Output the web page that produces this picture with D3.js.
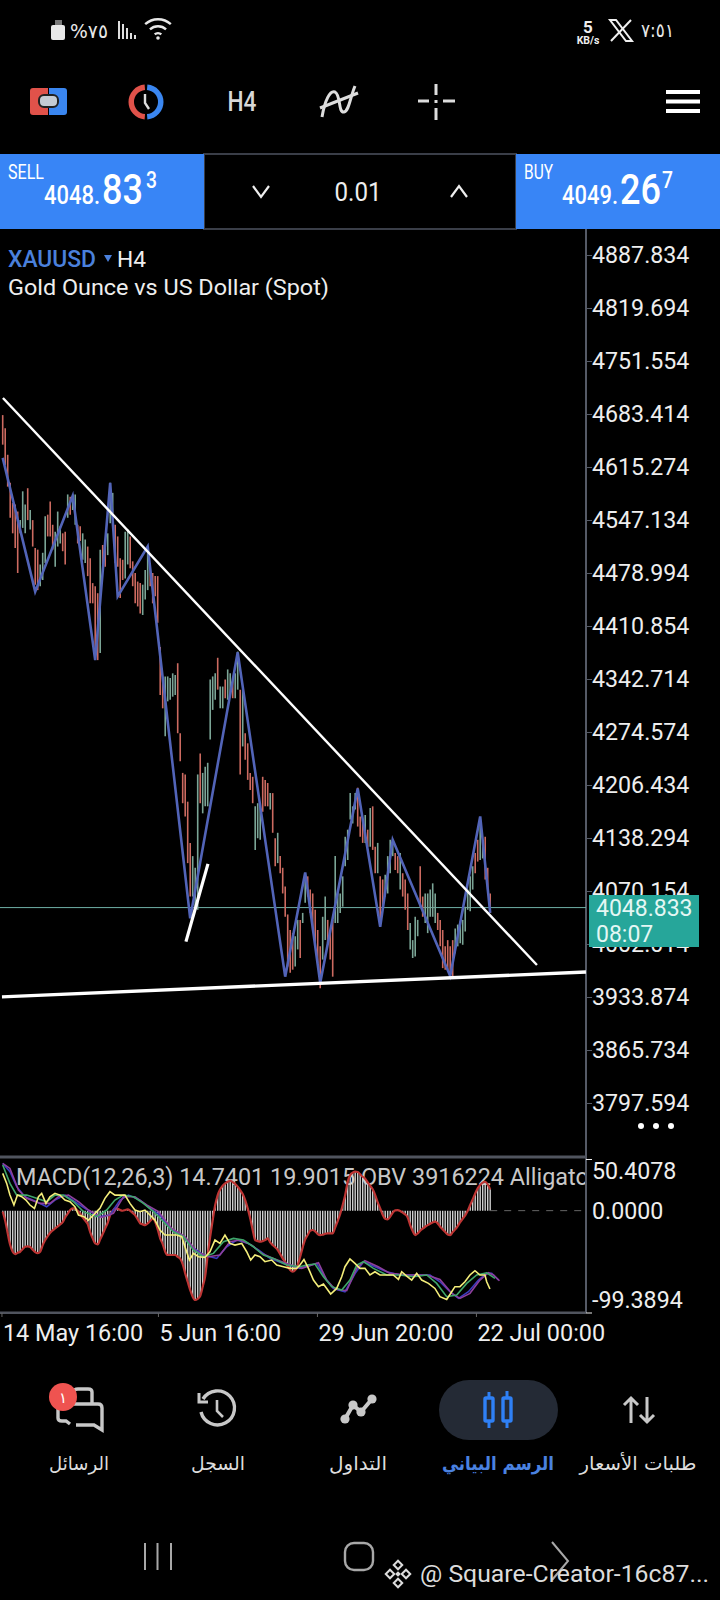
<!DOCTYPE html>
<html>
<head>
<meta charset="utf-8">
<script src="https://cdn.jsdelivr.net/npm/d3@7"></script>
<style>
body { margin: 0; background: #000; }
text { font-family: Roboto, "DejaVu Sans", sans-serif; }
</style>
</head>
<body>
<script>
//chart values

//price axis labels
var priceTicks = [4887.834, 4819.694, 4751.554, 4683.414, 4615.274, 4547.134, 4478.994, 4410.854,
    4342.714, 4274.574, 4206.434, 4138.294, 4070.154, 4002.014, 3933.874, 3865.734, 3797.594];
var lastPrice = 4048.833;

//time axis labels, placed by bar number
var timeBars = [-0.5, 62.1, 125.7, 189.3];
var timeLabels = ["14 May 16:00", "5 Jun 16:00", "29 Jun 20:00", "22 Jul 00:00"];

//bar highs
var barHigh = [4682,4665,4631,4595,4569,4567,4558,4547,4584,4567,
    4588,4560,4547,4511,4509,4490,4505,4552,4554,4571,
    4541,4532,4558,4539,4530,4532,4580,4577,4580,4580,
    4541,4539,4530,4522,4513,4498,4466,4462,4453,4509,
    4515,4515,4530,4595,4582,4541,4526,4498,4496,4532,
    4535,4526,4494,4479,4468,4466,4464,4483,4513,4492,
    4479,4475,4475,
    4384,4344,4346,4346,4344,4350,4348,4363,4273,4222,
    4220,4185,4132,4115,4100,4220,4247,4222,4230,4235,
    4342,4346,4350,4370,4333,4333,4342,4355,4350,4340,
    4350,4378,4329,4329,4273,4260,4222,4217,4179,4183,
    4181,4217,4213,4209,4196,4196,4138,4145,4115,4100,
    4076,4040,4020,4016,4012,4033,4033,4042,4093,4089,
    4072,4067,4046,4020,3999,4037,4063,4033,4016,4033,
    4115,4072,4067,4089,4140,4149,4196,4179,4196,4203,
    4166,4162,4168,4149,4177,4179,4127,4132,4089,4085,
    4091,4115,4136,4134,4119,4115,4119,4093,4085,4067,
    4029,4007,4037,4033,4102,4063,4067,4067,4072,4080,
    4067,4042,4033,4020,3999,4007,3999,
    4007,4022,4027,4031,4033,4050,4072,4089,4102,4119,4136,4164,4134,4140,4100,4067];

//bar lows
var barLow = [4644,4618,4590,4550,4530,4511,4479,4530,4537,4530,
    4547,4535,4513,4464,4457,4462,4470,4492,4526,4526,
    4509,4487,4513,4517,4507,4490,4550,4554,4560,4541,
    4517,4520,4496,4492,4475,4440,4440,4372,4367,4376,
    4490,4487,4502,4543,4556,4492,4487,4447,4470,4472,
    4490,4485,4462,4440,4436,4427,4425,4445,4457,4462,
    4440,4449,4415,
    4322,4305,4269,4314,4316,4320,4322,4273,4237,4183,
    4166,4106,4063,4063,4050,4046,4183,4170,4179,4179,
    4265,4303,4316,4329,4305,4305,4318,4316,4320,4318,
    4318,4329,4220,4256,4239,4213,4200,4183,4123,4138,
    4136,4172,4179,4179,4175,4145,4102,4106,4093,4067,
    4037,3973,3965,3969,3973,3995,3984,4029,4055,4063,
    4042,4020,3999,3977,3945,3982,4007,4003,3982,3960,
    4029,4029,4042,4050,4102,4110,4162,4157,4175,4153,
    4140,4132,4132,4127,4127,4123,4093,4093,4025,4046,
    4063,4067,4093,4115,4097,4093,4072,4063,4046,4020,
    3995,3984,3986,4012,4050,4037,4029,4016,4037,4037,
    4029,4020,3999,3971,3969,3969,3960,
    3960,3990,3999,4003,4001,4018,4046,4044,4072,4093,4108,4110,4112,4085,4072,4042];

//bar direction, u = up, d = down
var barDir = ("ddddddd uuu d u ddd uuu ddd uuu dd u d uu dd uu ddddd u dd uuu dddd uu ddddd uuu dddd " +
    "dd uuu uu d ddddd uuu d uuu uuu d uu d uu d uu d u dddd uuu ddd u dd u ddddd d uu d uu " +
    "dddddd uu ddd uuuuuuuuu ddd u d u dd u dd uuuu dd u ddd u uuu dd uuuuu dd dddd " +
    "d uuuuuuuu dd uu ddd").replace(/ /g, "");

//zigzag turning points
var zigBars = [0, 13, 28, 37, 43, 46, 58, 75, 94, 113, 121, 127, 142, 151, 156, 179, 191, 195];
var zigPrices = [4627, 4455, 4578, 4367, 4595, 4449, 4513, 4035, 4377, 3960, 4094, 3952, 4202, 4024, 4136, 3961, 4166, 4042];

//hand drawn trend lines: bar, price, bar, price
var trendLines = [
    { from: [0.1, 4704], to: [213.7, 3975], width: 2.4 },
    { from: [-0.3, 3934], to: [233.3, 3966], width: 3.4 },
    { from: [73.3, 4005], to: [82.1, 4105], width: 3.2 }
];

//macd histogram, one value for each bar
var macdValues = [-1.0,-9.8,-22.2,-33.6,-40.1,-42.4,-41.1,-40.1,-37.5,-35.2,
    -34.9,-35.5,-38.1,-40.4,-41.4,-40.1,-33.6,-28.7,-24.8,-21.5,
    -19.3,-17.3,-15.4,-13.4,-11.1,-6.6,-3.0,0.6,2.2,2.2,
    -0.4,-3.0,-6.6,-9.8,-13.1,-20.9,-27.1,-32.0,-32.9,-28.0,
    -22.8,-17.3,-11.8,-4.3,-0.1,2.2,1.9,0.6,-0.1,0.6,
    1.2,-0.1,-2.3,-4.6,-8.5,-12.4,-13.4,-14.1,-12.4,-10.1,
    -7.9,-10.8,-18.3,-27.1,-32.6,-40.1,-43.3,-43.3,-43.3,-43.3,
    -45.0,-46.9,-52.1,-61.2,-69.4,-77.5,-84.0,-87.2,-86.0,-83.3,
    -74.2,-63.8,-43.3,-25.4,-9.2,5.5,15.2,20.8,24.3,26.6,
    28.2,29.2,27.9,26.0,23.4,20.1,16.2,10.3,2.2,-7.5,
    -18.9,-28.7,-29.7,-30.3,-29.7,-28.7,-27.1,-31.0,-33.6,-35.8,
    -38.4,-42.4,-46.6,-50.2,-54.1,-58.0,-59.6,-58.0,-53.1,-45.0,
    -35.8,-28.0,-23.8,-19.6,-18.9,-20.2,-22.8,-23.8,-23.5,-22.5,
    -22.2,-22.2,-22.2,-16.3,-10.1,-3.3,5.5,15.2,28.2,34.7,
    37.0,38.0,37.7,35.4,33.1,31.2,27.6,24.3,20.8,15.2,
    8.1,2.2,-4.0,-7.9,-8.5,-5.9,-2.0,0.3,0.6,-0.4,
    -2.0,-3.6,-6.6,-14.1,-19.9,-23.8,-22.2,-19.6,-17.6,-15.7,
    -14.1,-12.8,-11.5,-10.8,-12.4,-15.7,-18.3,-20.9,-23.2,-23.8,
    -20.9,-18.3,-15.0,-11.1,-7.9,-4.6,-0.1,5.5,11.0,16.8,
    21.7,25.0,27.3,28.2,25.6,20.8];

//macd pane axis labels
var macdTicks = [50.4078, 0, -99.3894];

//obv line in the lower pane
var obvBars = [0,1.6,2.9,4.5,5.9,7.6,9.3,10.9,12.7,14.3,15.6,17.3,18.9,20.9,22.9,24.9,26.9,28.9,30.3,32.5,
    34.3,36.3,37.6,38.9,40.9,42.9,44.9,46.9,48.9,50.9,52.9,54.9,56.9,58.9,60.9,62.9,64.9,66.9,69.6,71.6,
    72.9,74.7,76.3,78.3,80.9,82.9,84.9,86.9,88.9,90.9,92.9,95.6,97.6,99.2,100.9,102.9,104.9,107.6,109.6,112.3,
    114.9,117.6,118.9,120.5,122.3,124.3,126.3,128.3,129.6,131.2,133.6,135.6,136.9,138.9,140.9,142.9,144.9,146.9,148.9,150.9,
    153.6,156.2,158.3,159.6,161.6,163.6,165.6,167.6,170.3,172.9,174.9,177.6,179.6,180.9,182.9,184.9,186.9,188.9,190.9,192.9,193.6,194.9];
var obvValues = [36.4,26.6,15.2,5.5,15.2,13.6,10.3,5.5,2.2,13.6,16.9,7.1,13.6,16.9,15.2,10.3,8.7,3.8,-4.3,-5.9,
    -9.2,-4.3,-1.0,2.2,12.0,18.5,15.2,15.2,15.2,7.1,0.6,-1.0,0.6,-4.3,-9.2,-18.9,-23.8,-23.8,-23.8,-25.4,
    -35.2,-48.2,-41.7,-45.0,-45.6,-40.1,-28.7,-32.0,-23.8,-32.0,-33.6,-32.0,-40.1,-48.2,-43.3,-45.0,-49.8,-48.2,-53.1,-54.7,
    -56.3,-56.3,-53.1,-47.6,-56.3,-67.7,-74.2,-71.6,-75.9,-81.4,-75.9,-64.5,-54.7,-47.2,-51.5,-56.3,-56.3,-62.8,-59.6,-62.8,
    -62.8,-62.8,-67.1,-59.6,-63.8,-67.7,-61.2,-67.7,-71.0,-75.9,-84.0,-86.6,-79.1,-74.2,-74.2,-69.4,-62.8,-58.6,-62.8,-62.8,-69.4,-76.5];

//alligator lips
var lipsBars = [0,2.9,5.6,9.6,13.6,17.6,20.9,24.3,28.3,32.3,37.6,41.6,44.9,48.3,52.3,56.3,60.3,64.3,68.3,72.3,
    76.3,80.3,84.3,88.3,92.3,96.3,100.3,104.3,108.3,113.6,118.9,121.6,124.9,128.3,131.6,135.6,138.9,141.6,144.3,148.3,
    153.6,158.9,164.3,169.6,173.6,177.6,181.6,185.6,189.6,193.6,196.9];
var lipsValues = [44.5,26.6,15.2,15.2,12.0,8.7,15.2,15.2,8.7,-1.0,-5.9,0.6,10.3,15.2,13.6,7.1,-1.0,-10.8,-20.6,-25.4,
    -38.4,-45.0,-41.7,-30.3,-27.1,-28.7,-35.2,-43.3,-46.6,-53.1,-54.7,-53.1,-52.1,-64.5,-74.2,-77.5,-67.7,-53.1,-49.8,-56.3,
    -62.8,-62.8,-64.5,-62.8,-71.0,-84.0,-82.4,-71.0,-62.8,-60.6,-66.1];

//alligator jaw
var jawBars = [0,2.9,5.6,8.9,13.6,17.6,20.9,24.9,28.9,32.9,38.3,42.9,46.9,50.3,54.9,58.9,62.9,66.9,71.6,75.6,
    80.3,85.6,89.6,93.6,98.3,102.3,106.9,112.3,118.9,125.6,129.6,132.3,136.9,141,144.3,148.9,153.6,158.9,165.6,170.9,
    174.9,178.9,182.3,186.3,190.3,193.6,195.6,198.3];
var jawValues = [46.1,38.0,23.4,13.6,8.7,3.8,10.3,15.2,8.7,2.2,-5.9,-4.3,10.3,15.2,10.3,2.2,-4.3,-17.3,-23.8,-35.2,
    -43.3,-46.6,-35.2,-28.7,-32.0,-38.4,-46.6,-51.5,-56.3,-51.5,-67.7,-75.9,-79.1,-61.2,-49.8,-54.7,-59.6,-62.8,-62.8,-62.8,
    -69.4,-79.1,-85.6,-79.1,-67.7,-61.2,-61.2,-67.7];

//alligator teeth
var teethBars = [0,2.9,6.3,9.6,14.9,18.9,22.3,26.3,30.3,34.3,39.6,44.3,48.3,52.9,57.6,62.3,67.6,72.9,77.6,82.3,
    86.9,90.9,94.9,99.6,103.6,108.3,113.6,119.6,126.3,129.6,132.9,137.6,141.6,144.9,150.2,154.9,161.6,169.6,174.9,179.6,
    182.9,186.9,190.9,194.3,196.3,198.7];
var teethValues = [46.1,41.2,20.1,12.0,7.1,7.1,13.6,15.2,8.7,0.6,-6.6,-2.7,13.6,13.6,5.5,-1.0,-17.3,-25.4,-40.1,-45.0,
    -43.3,-30.3,-28.7,-33.6,-41.7,-46.6,-51.5,-56.3,-50.8,-67.7,-76.5,-78.1,-56.3,-48.9,-54.7,-61.2,-62.8,-62.8,-67.1,-80.7,
    -85.6,-80.7,-67.7,-60.6,-62.8,-68.4];

//page frame
var width = 720,
    height = 1600,
    axisX = 586;

var svg = d3.select("body")
    .append("svg")
    .attr("width", width)
    .attr("height", height)
    .style("display", "block");

svg.append("rect").attr("width", width).attr("height", height).attr("fill", "#000");

//scales shared by both panes
var x = d3.scaleLinear().domain([0, 195]).range([2.7, 490.2]);
var priceY = d3.scaleLinear().domain([3797.594, 4887.834]).range([1103, 255]);
var macdY = d3.scaleLinear().domain([-99.3894, 50.4078]).range([1312.5, 1159]);

//small text helper, len squeezes the text to a measured width
function label(parent, px, py, str, size, fill, anchor, len, weight){
    var t = parent.append("text")
        .attr("x", px)
        .attr("y", py)
        .attr("font-size", size)
        .attr("fill", fill)
        .attr("text-anchor", anchor || "start")
        .attr("font-weight", weight || 400)
        .text(str);
    if (len) {
        t.attr("textLength", len).attr("lengthAdjust", "spacingAndGlyphs");
    }
    return t;
}

drawStatusBar();
drawToolbar();
drawTradeBar();
drawPriceAxis();
drawCandles();
drawTrendLines();
drawMacdPane();
drawTimeAxis();
drawTabs();
drawSystemBar();

function drawStatusBar(){
    var g = svg.append("g").attr("class", "status");

    //battery
    g.append("rect").attr("x", 55).attr("y", 20).attr("width", 7).attr("height", 5).attr("fill", "#777");
    g.append("rect").attr("x", 51).attr("y", 25).attr("width", 14).attr("height", 15).attr("rx", 2).attr("fill", "#e8e8e8");
    label(g, 70, 38, "%٧٥", 19, "#e8e8e8", "start", 38).style("font-family", "'DejaVu Sans'");

    //signal bars
    [[119, 21], [123, 24], [127, 28], [131, 33], [135, 35]].forEach(function(b){
        g.append("line").attr("x1", b[0]).attr("x2", b[0]).attr("y1", b[1]).attr("y2", 39)
            .attr("stroke", "#ddd").attr("stroke-width", 2);
    });

    //wifi
    var arc = d3.arc().startAngle(-0.75).endAngle(0.75);
    [20, 13, 6].forEach(function(r){
        g.append("path").attr("transform", "translate(158,38)")
            .attr("d", arc({ innerRadius: r - 2.4, outerRadius: r }))
            .attr("fill", "#e8e8e8");
    });
    g.append("circle").attr("cx", 158).attr("cy", 38).attr("r", 1.8).attr("fill", "#e8e8e8");

    //right side
    label(g, 588, 33, "5", 17, "#eee", "middle", null, 700);
    label(g, 588, 44, "KB/s", 10.5, "#eee", "middle", null, 700);
    g.append("path").attr("d", "M610 20 L616 20 L632 41 L626 41 Z")
        .attr("fill", "none").attr("stroke", "#f0f0f0").attr("stroke-width", 2);
    g.append("line").attr("x1", 631).attr("y1", 20).attr("x2", 611).attr("y2", 41)
        .attr("stroke", "#f0f0f0").attr("stroke-width", 2);
    label(g, 641, 37, "٧:٥١", 19, "#e8e8e8", "start", 33).style("font-family", "'DejaVu Sans'");
}

function drawToolbar(){
    var g = svg.append("g").attr("class", "toolbar");

    //one click trading icon
    g.append("path").attr("d", "M33 88 H48 V115 H33 Q30 115 30 112 V91 Q30 88 33 88 Z").attr("fill", "#e0524a");
    g.append("path").attr("d", "M49 88 H64 Q67 88 67 91 V112 Q67 115 64 115 H49 Z").attr("fill", "#3a86f0");
    g.append("rect").attr("x", 39).attr("y", 95).attr("width", 19).attr("height", 12).attr("rx", 5)
        .attr("fill", "#c5ccd4").attr("stroke", "#222").attr("stroke-width", 2);

    //period clock icon
    var arc = d3.arc().innerRadius(12).outerRadius(17.5);
    g.append("path").attr("transform", "translate(146,102)")
        .attr("d", arc({ startAngle: Math.PI + 0.08, endAngle: 2 * Math.PI - 0.08 })).attr("fill", "#e0524a");
    g.append("path").attr("transform", "translate(146,102)")
        .attr("d", arc({ startAngle: 0.08, endAngle: Math.PI - 0.08 })).attr("fill", "#3a86f0");
    g.append("path").attr("d", "M145 94 V103 L149 109").attr("fill", "none").attr("stroke", "#ddd").attr("stroke-width", 2.4);

    label(g, 242, 111, "H4", 27, "#d8d8d8", "middle", 29, 500);

    //indicators icon
    g.append("path").attr("d", "M322 117 C325 100 330 90 335 92 C341 95 338 113 344 112 C349 111 350 98 355 86")
        .attr("fill", "none").attr("stroke", "#ddd").attr("stroke-width", 3);
    g.append("path").attr("d", "M320 108 L358 93").attr("stroke", "#ddd").attr("stroke-width", 3);

    //crosshair
    [[436, 84, 436, 95], [436, 108, 436, 120], [418, 101, 429, 101], [443, 101, 455, 101], [436, 100, 436, 103]].forEach(function(l){
        g.append("line").attr("x1", l[0]).attr("y1", l[1]).attr("x2", l[2]).attr("y2", l[3])
            .attr("stroke", "#ddd").attr("stroke-width", 3);
    });

    //menu
    [90, 99.5, 109].forEach(function(y){
        g.append("rect").attr("x", 666).attr("y", y).attr("width", 34).attr("height", 4).attr("fill", "#fff");
    });
}

function drawTradeBar(){
    var g = svg.append("g").attr("class", "trade");
    var blue = "#3885f6";

    g.append("rect").attr("x", 204).attr("y", 154).attr("width", 312).attr("height", 75)
        .attr("fill", "#000").attr("stroke", "#3a3e48").attr("stroke-width", 2);
    g.append("rect").attr("x", 0).attr("y", 154).attr("width", 204).attr("height", 75).attr("fill", blue);
    g.append("rect").attr("x", 516).attr("y", 154).attr("width", 204).attr("height", 75).attr("fill", blue);

    label(g, 8, 179, "SELL", 21, "#fff", "start", 36);
    label(g, 44, 204, "4048.", 26, "#fff", "start", 56, 500);
    label(g, 102, 204, "83", 42, "#fff", "start", 41, 500);
    label(g, 146, 188, "3", 23, "#fff", "start", 11, 500);

    label(g, 524, 179, "BUY", 21, "#fff", "start", 29);
    label(g, 562, 204, "4049.", 26, "#fff", "start", 56, 500);
    label(g, 620, 204, "26", 42, "#fff", "start", 41, 500);
    label(g, 662, 188, "7", 23, "#fff", "start", 11, 500);

    label(g, 358, 201, "0.01", 26, "#eee", "middle", 47);

    g.append("path").attr("d", "M253 186 L261 197 L269 186").attr("fill", "none").attr("stroke", "#eee").attr("stroke-width", 2.2);
    g.append("path").attr("d", "M451 197 L459 186 L467 197").attr("fill", "none").attr("stroke", "#eee").attr("stroke-width", 2.2);

    //symbol title
    label(svg, 8, 267, "XAUUSD", 23, "#4a80dc", "start", 88, 500);
    svg.append("path").attr("d", "M104 255 L112 255 L108 262 Z").attr("fill", "#4a80dc");
    label(svg, 117, 267, "H4", 22, "#eee", "start", 29);
    label(svg, 8, 295, "Gold Ounce vs US Dollar (Spot)", 22, "#eee", "start", 321);
}

function drawPriceAxis(){
    //axis border
    svg.append("line").attr("x1", axisX).attr("x2", axisX).attr("y1", 229).attr("y2", 1313)
        .attr("stroke", "#555a66").attr("stroke-width", 2);

    var axis = d3.axisRight(priceY)
        .tickValues(priceTicks)
        .tickFormat(d3.format(".3f"))
        .tickSize(6)
        .tickPadding(0);

    var g = svg.append("g")
        .attr("class", "priceAxis")
        .attr("transform", "translate(" + axisX + ",0)")
        .call(axis);
    g.select(".domain").remove();
    g.selectAll("line").attr("stroke", "#555a66");
    g.selectAll("text").attr("fill", "#eee").attr("font-size", 23.2).style("font-family", "Roboto");

    //current price line and flag
    svg.append("line").attr("x1", 0).attr("x2", axisX).attr("y1", priceY(lastPrice)).attr("y2", priceY(lastPrice))
        .attr("stroke", "#6fb0a6").attr("stroke-width", 1);
    svg.append("rect").attr("x", 589).attr("y", 895).attr("width", 110).attr("height", 52).attr("fill", "#26a69a");
    label(svg, 596, 916, d3.format(".3f")(lastPrice), 23, "#e4f7f4");
    label(svg, 596, 942, "08:07", 23, "#e4f7f4");

    //pane menu dots
    [641, 656, 671].forEach(function(cx){
        svg.append("circle").attr("cx", cx).attr("cy", 1126).attr("r", 3).attr("fill", "#fff");
    });
}

function drawCandles(){
    //one thin line per bar
    svg.append("g").attr("class", "bars")
        .selectAll("line")
        .data(barHigh)
        .enter()
        .append("line")
        .attr("x1", function(d, i){ return x(i); })
        .attr("x2", function(d, i){ return x(i); })
        .attr("y1", function(d){ return priceY(d); })
        .attr("y2", function(d, i){ return priceY(barLow[i]); })
        .attr("stroke", function(d, i){ return barDir[i] === "u" ? "#7ba596" : "#cc6a60"; })
        .attr("stroke-width", 1.6);

    //zigzag over the bars
    var zigLine = d3.line()
        .x(function(d){ return x(d); })
        .y(function(d, i){ return priceY(zigPrices[i]); });
    svg.append("path")
        .attr("class", "zigzag")
        .attr("d", zigLine(zigBars))
        .attr("fill", "none")
        .attr("stroke", "#5264b8")
        .attr("stroke-width", 2.6);
}

function drawTrendLines(){
    svg.selectAll(".trend")
        .data(trendLines)
        .enter()
        .append("line")
        .attr("class", "trend")
        .attr("x1", function(d){ return x(d.from[0]); })
        .attr("y1", function(d){ return priceY(d.from[1]); })
        .attr("x2", function(d){ return x(d.to[0]); })
        .attr("y2", function(d){ return priceY(d.to[1]); })
        .attr("stroke", "#fff")
        .attr("stroke-width", function(d){ return d.width; });
}

function drawMacdPane(){
    //pane borders
    svg.append("rect").attr("x", 0).attr("y", 1155.5).attr("width", axisX).attr("height", 3).attr("fill", "#50545e");
    svg.append("rect").attr("x", 0).attr("y", 1311.5).attr("width", axisX).attr("height", 2.5).attr("fill", "#50545e");

    var clip = svg.append("clipPath").attr("id", "paneClip");
    clip.append("rect").attr("x", 0).attr("y", 1150).attr("width", axisX - 1).attr("height", 170);

    //the text runs past the pane and is cut at the axis
    svg.append("g").attr("clip-path", "url(#paneClip)")
        .call(function(g){
            label(g, 16, 1185, "MACD(12,26,3) 14.7401 19.9015 OBV 3916224 Alligator", 23.4, "#c8c8c8");
        });

    //histogram
    svg.append("g").attr("class", "hist")
        .selectAll("line")
        .data(macdValues)
        .enter()
        .append("line")
        .attr("x1", function(d, i){ return x(i); })
        .attr("x2", function(d, i){ return x(i); })
        .attr("y1", macdY(0))
        .attr("y2", function(d){ return macdY(d); })
        .attr("stroke", "#cfcfcf")
        .attr("stroke-width", 1.4);

    //zero line to the right of the last bar
    svg.append("line").attr("x1", x(195)).attr("x2", axisX).attr("y1", macdY(0)).attr("y2", macdY(0))
        .attr("stroke", "#666").attr("stroke-dasharray", "7 7");

    //signal line on the histogram
    var macdLine = d3.line()
        .x(function(d, i){ return x(i); })
        .y(function(d){ return macdY(d); })
        .curve(d3.curveMonotoneX);
    svg.append("path").attr("d", macdLine(macdValues))
        .attr("fill", "none").attr("stroke", "#bd3534").attr("stroke-width", 2.2);

    //pane lines, drawn from their own read points
    function paneLine(bars, values, color, w){
        var line = d3.line()
            .x(function(d){ return x(d); })
            .y(function(d, i){ return macdY(values[i]); });
        svg.append("path").attr("d", line(bars))
            .attr("fill", "none").attr("stroke", color).attr("stroke-width", w);
    }
    paneLine(jawBars, jawValues, "#3a3cc0", 1.6);
    paneLine(teethBars, teethValues, "#8d3f9c", 1.6);
    paneLine(lipsBars, lipsValues, "#3fa66a", 1.6);
    paneLine(obvBars, obvValues, "#f4ee7a", 1.6);

    //right hand labels, with a plain hyphen for the minus sign
    var axis = d3.axisRight(macdY)
        .tickValues(macdTicks)
        .tickFormat(function(d){ return d3.format(".4f")(d).replace("−", "-"); })
        .tickSize(6)
        .tickPadding(0);
    var g = svg.append("g")
        .attr("class", "macdAxis")
        .attr("transform", "translate(" + axisX + ",0)")
        .call(axis);
    g.select(".domain").remove();
    g.selectAll("line").attr("stroke", "#eee");
    g.selectAll("text").attr("fill", "#eee").attr("font-size", 23.2).style("font-family", "Roboto");
    //labels sit off their ticks at the pane edges
    g.selectAll("text").attr("y", function(d){ return d > 1 ? 12 : (d < -1 ? -12 : 0); });
    g.selectAll("line").filter(function(d){ return d === 0; }).remove();
}

function drawTimeAxis(){
    var axis = d3.axisBottom(x)
        .tickValues(timeBars)
        .tickFormat(function(d, i){ return timeLabels[i]; })
        .tickSize(4)
        .tickPadding(7);
    var g = svg.append("g")
        .attr("class", "timeAxis")
        .attr("transform", "translate(0,1313)")
        .call(axis);
    g.select(".domain").remove();
    g.selectAll("line").attr("stroke", "#666");
    g.selectAll("text")
        .attr("fill", "#eee")
        .attr("font-size", 23.4)
        .attr("text-anchor", "start")
        .attr("x", 1)
        .style("font-family", "Roboto");
}

function drawTabs(){
    var g = svg.append("g").attr("class", "tabs");
    var grey = "#c8c8c8";

    //messages icon
    g.append("path").attr("d", "M62 1404 Q58 1404 58 1408 V1418 Q58 1421 62 1421 H66 L70 1424")
        .attr("fill", "none").attr("stroke", grey).attr("stroke-width", 3.4);
    g.append("path").attr("d", "M74 1404 V1392 Q74 1389 78 1389 H88 Q92 1389 92 1392 V1404")
        .attr("fill", "none").attr("stroke", grey).attr("stroke-width", 3.4);
    g.append("path").attr("d", "M74 1404 H98 Q102 1404 102 1408 V1430 L94 1425 H76")
        .attr("fill", "none").attr("stroke", grey).attr("stroke-width", 3.4);
    g.append("circle").attr("cx", 63).attr("cy", 1397).attr("r", 14).attr("fill", "#ef5350");
    label(g, 63, 1403, "١", 15, "#fff", "middle").style("font-family", "'DejaVu Sans'");

    //history icon
    g.append("path").attr("d", "M203 1399 A17 17 0 1 1 201 1412")
        .attr("fill", "none").attr("stroke", grey).attr("stroke-width", 3.4);
    g.append("path").attr("d", "M199 1393 V1402 H208").attr("fill", "none").attr("stroke", grey).attr("stroke-width", 3);
    g.append("path").attr("d", "M217 1400 V1411 L223 1417").attr("fill", "none").attr("stroke", grey).attr("stroke-width", 2.6);

    //trade icon
    g.append("path").attr("d", "M345 1419 L353 1405 L361 1412 L372 1399")
        .attr("fill", "none").attr("stroke", grey).attr("stroke-width", 4);
    [[345, 1419], [353, 1405], [361, 1412], [372, 1399]].forEach(function(c){
        g.append("circle").attr("cx", c[0]).attr("cy", c[1]).attr("r", 4.6).attr("fill", grey);
    });

    //chart icon in its pill
    g.append("rect").attr("x", 439).attr("y", 1380).attr("width", 119).attr("height", 60).attr("rx", 30).attr("fill", "#242a35");
    [489, 507].forEach(function(cx, i){
        g.append("line").attr("x1", cx).attr("x2", cx).attr("y1", 1392 + i * -1).attr("y2", 1428)
            .attr("stroke", "#2f80f5").attr("stroke-width", 3);
        g.append("rect").attr("x", cx - 4).attr("y", 1398).attr("width", 8).attr("height", 23).attr("rx", 1)
            .attr("fill", "#242a35").attr("stroke", "#2f80f5").attr("stroke-width", 3.4);
    });

    //quotes icon
    g.append("path").attr("d", "M631 1423 V1398 M624 1405 L631 1398 L638 1405")
        .attr("fill", "none").attr("stroke", grey).attr("stroke-width", 3);
    g.append("path").attr("d", "M647 1397 V1422 M640 1415 L647 1422 L654 1415")
        .attr("fill", "none").attr("stroke", grey).attr("stroke-width", 3);

    //tab names
    var font = "'DejaVu Sans'";
    label(g, 79, 1470, "الرسائل", 19, "#ddd", "middle", 60).style("font-family", font);
    label(g, 218, 1470, "السجل", 19, "#ddd", "middle", 54).style("font-family", font);
    label(g, 358, 1470, "التداول", 19, "#ddd", "middle", 58).style("font-family", font);
    label(g, 498, 1470, "الرسم البياني", 19, "#4a82e0", "middle", 112, 700).style("font-family", font);
    label(g, 638, 1470, "طلبات الأسعار", 19, "#ddd", "middle", 117).style("font-family", font);
}

function drawSystemBar(){
    var g = svg.append("g").attr("class", "system");

    [145, 157.5, 171].forEach(function(lx){
        g.append("line").attr("x1", lx).attr("x2", lx).attr("y1", 1543).attr("y2", 1570)
            .attr("stroke", "#a8a8a8").attr("stroke-width", 2);
    });
    g.append("rect").attr("x", 345).attr("y", 1543).attr("width", 28).attr("height", 27).attr("rx", 9)
        .attr("fill", "none").attr("stroke", "#a8a8a8").attr("stroke-width", 2.4);
    g.append("path").attr("d", "M552 1542 L568 1561 L552 1580").attr("fill", "none").attr("stroke", "#a8a8a8").attr("stroke-width", 2);

    //watermark
    [[398, 1565], [390, 1574], [406, 1574], [398, 1583]].forEach(function(c){
        g.append("rect").attr("x", c[0] - 3).attr("y", c[1] - 3).attr("width", 6).attr("height", 6)
            .attr("transform", "rotate(45 " + c[0] + " " + c[1] + ")")
            .attr("fill", "none").attr("stroke", "#ddd").attr("stroke-width", 2);
    });
    g.append("rect").attr("x", 396).attr("y", 1572).attr("width", 4).attr("height", 4)
        .attr("transform", "rotate(45 398 1574)").attr("fill", "#ddd");
    label(g, 420, 1582, "@ Square-Creator-16c87...", 23, "#dcdcdc", "start", 289);
}
</script>
</body>
</html>
